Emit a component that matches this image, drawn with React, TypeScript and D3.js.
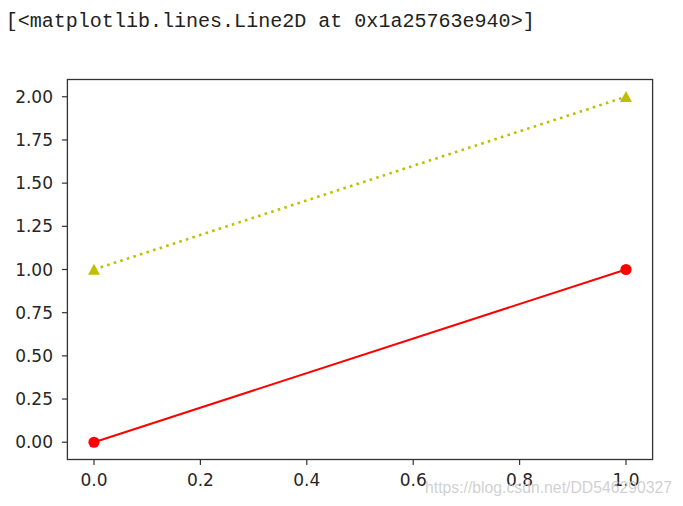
import * as d3 from 'd3'
import React from 'react'

const xs = [0, 1]
const redYs = [0, 1]
const yellowYs = [1, 2]
const xTicks = [0, 0.2, 0.4, 0.6, 0.8, 1.0]
const yTicks = [0, 0.25, 0.5, 0.75, 1.0, 1.25, 1.5, 1.75, 2.0]
const header = '[<matplotlib.lines.Line2D at 0x1a25763e940>]'
const watermark = 'https://blog.csdn.net/DD546290327'

const W = 683, H = 506
const box = { left: 67.4, right: 652.6, top: 79.5, bottom: 459.5 }

export default function App() {
  const
    x = d3.scaleLinear().domain([-0.05, 1.05]).range([box.left, box.right]),
    y = d3.scaleLinear().domain([-0.1, 2.1]).range([box.bottom, box.top]),
    line = d3.line<number>().x((_, i) => x(xs[i])).y(d => y(d)),
    tri = d3.line<[number, number]>()

  const triangle = (cx: number, cy: number) =>
    tri([[cx, cy - 5.8], [cx - 6, cy + 5.2], [cx + 6, cy + 5.2]]) + 'Z'

  const textColor = '#262626'
  const axisColor = '#333'

  return (
    <svg width={W} height={H} style={{ position: 'absolute', left: 0, top: 0, background: '#fff' }}>
      <text x={5.7} y={26.5} fontFamily='"Liberation Mono", monospace' fontSize={20}
        fill='#222' textLength={529} lengthAdjust='spacingAndGlyphs'>{header}</text>

      {/* series */}
      <path d={line(yellowYs)!} fill='none' stroke='#bfbf00' strokeWidth={2.6} strokeDasharray='2.6,4.3' />
      <path d={line(redYs)!} fill='none' stroke='#ff0000' strokeWidth={2} />
      {yellowYs.map((v, i) => (
        <path key={'t' + i} d={triangle(x(xs[i]), y(v))} fill='#bfbf00' />
      ))}
      {redYs.map((v, i) => (
        <circle key={'c' + i} cx={x(xs[i])} cy={y(v)} r={5.6} fill='#ff0000' />
      ))}

      {/* frame */}
      <rect x={box.left} y={box.top} width={box.right - box.left} height={box.bottom - box.top}
        fill='none' stroke={axisColor} strokeWidth={1.3} />

      {/* y axis */}
      {yTicks.map(t => (
        <g key={'y' + t} transform={`translate(0,${y(t)})`}>
          <line x1={box.left - 5.5} x2={box.left} stroke={axisColor} strokeWidth={1.2} />
          <text x={53} y={0} dy='0.36em' textAnchor='end' fontFamily='"DejaVu Sans", sans-serif'
            fontSize={17} fill={textColor}>{t.toFixed(2)}</text>
        </g>
      ))}

      {/* x axis */}
      {xTicks.map(t => (
        <g key={'x' + t} transform={`translate(${x(t)},0)`}>
          <line y1={box.bottom} y2={box.bottom + 5.5} stroke={axisColor} strokeWidth={1.2} />
          <text x={0} y={486} textAnchor='middle' fontFamily='"DejaVu Sans", sans-serif'
            fontSize={17} fill={textColor}>{t.toFixed(1)}</text>
        </g>
      ))}

      <text x={425} y={493} fontFamily='"Liberation Sans", Arial, sans-serif' fontSize={16}
        fill='#c8c8c8' fillOpacity={0.85} textLength={247} lengthAdjust='spacingAndGlyphs'>{watermark}</text>
    </svg>
  )
}
